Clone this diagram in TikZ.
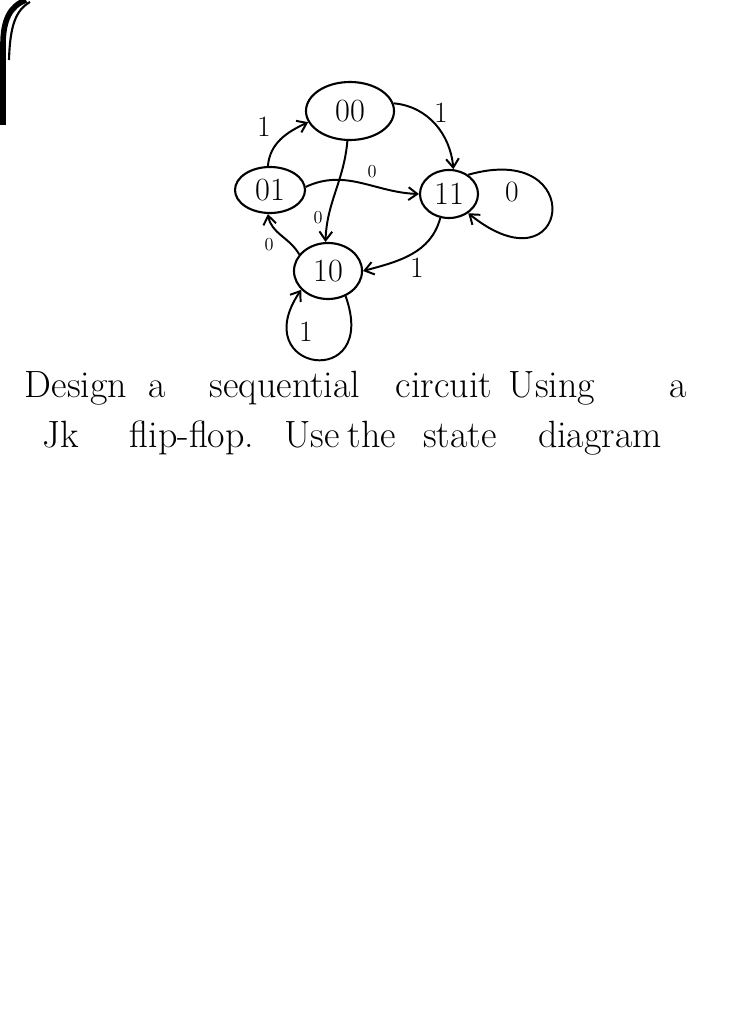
\documentclass[tikz,border=0pt]{standalone}
\usetikzlibrary{shapes.geometric,arrows.meta}

\tikzset{
    state/.style={ellipse, draw, line width=1.5pt, inner sep=0pt, font=\fontsize{23}{26}\selectfont},
    trans/.style={line width=1.4pt, -{Straight Barb[length=2.2mm,width=3.2mm]}},
    lab/.style={font=\fontsize{21}{24}\selectfont},
    smallab/.style={font=\fontsize{13}{15}\selectfont},
}

\begin{document}
\begin{tikzpicture}[x=0.025cm, y=0.025cm]  % one unit is one pixel of the scan
    \useasboundingbox (0,0) rectangle (741,-1024);

    % scanned page edge in the corner
    \draw[line width=4pt] (3,-125) -- (3,-45) .. controls (3,-20) and (10,-6) .. (26,0);
    \draw[line width=1.5pt] (9,-60) .. controls (10,-25) and (16,-10) .. (30,-2);

    % the four states
    \node[state, minimum width=2.2cm, minimum height=1.45cm] (s00) at (350,-111) {00};
    \node[state, minimum width=1.75cm, minimum height=1.15cm] (s01) at (270,-190) {01};
    \node[state, minimum width=1.45cm, minimum height=1.2cm] (s11) at (449,-194) {11};
    \node[state, minimum width=1.7cm, minimum height=1.4cm] (s10) at (328,-271) {10};

    % transitions
    \draw[trans] (s01.95) to[out=85,in=205] (s00.195);
    \draw[trans] (s00.10) to[out=-5,in=95] (s11.80);
    \draw[trans] (s00.-95) to[out=-95,in=88] (s10.95);
    \draw[trans] (s01.5) to[out=25,in=178] (s11.west);
    \draw[trans] (s11.-110) to[out=-105,in=15] (s10.east);
    \draw[trans] (s10.150) to[out=120,in=-80] (s01.-95);

    % self loops
    \draw[trans] (s10.-55) .. controls (380,-392) and (245,-372) .. (s10.-145);
    \draw[trans] (s11.45) .. controls (590,-140) and (570,-295) .. (s11.-45);

    % input labels
    \node[lab] (l1) at (264,-127) {1};
    \node[lab] (l2) at (441,-113) {1};
    \node[smallab] (l3) at (372,-172) {0};
    \node[smallab] (l4) at (318,-218) {0};
    \node[smallab] (l5) at (269,-245) {0};
    \node[lab] (l6) at (417,-268) {1};
    \node[lab] (l7) at (306,-332) {1};
    \node[lab] (l8) at (512,-192) {0};

    % the question, each word centred where it was written
    \foreach \w/\x [count=\i] in {Design/76, a/157, sequential/285, circuit/444, Using/552, a/678}
        \node[anchor=base, inner sep=0pt, font=\fontsize{27}{32}\selectfont] (q1-\i) at (\x,-397) {\w};
    \foreach \w/\x [count=\i] in {Jk/61, flip-flop./192, Use/312, the/372, state/460, diagram/600}
        \node[anchor=base, inner sep=0pt, font=\fontsize{27}{32}\selectfont] (q2-\i) at (\x,-447) {\w};
\end{tikzpicture}
\end{document}
